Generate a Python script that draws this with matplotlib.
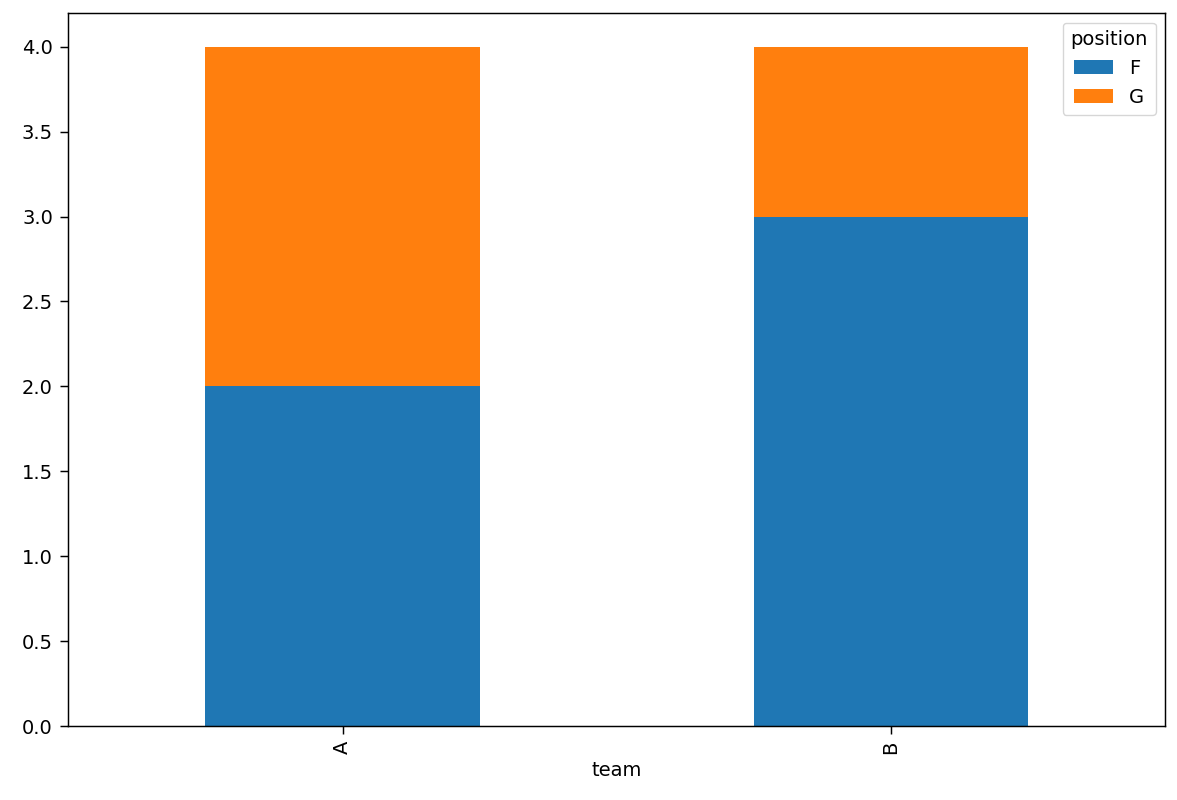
import matplotlib
matplotlib.use("Agg")
import matplotlib.pyplot as plt
import pandas as pd

teams = ["A", "B"]
positions = ["F", "G"]
counts_F = [2, 3]
counts_G = [2, 1]

df = pd.DataFrame({"F": counts_F, "G": counts_G}, index=pd.Index(teams, name="team"))
df.columns.name = "position"

plt.rcParams["font.size"] = 14
plt.rcParams["axes.linewidth"] = 1.05
plt.rcParams["xtick.major.size"] = 5.5
plt.rcParams["ytick.major.size"] = 5.5
plt.rcParams["xtick.major.width"] = 1.05
plt.rcParams["ytick.major.width"] = 1.05
plt.rcParams["xtick.major.pad"] = 5
plt.rcParams["ytick.major.pad"] = 5.5
plt.rcParams["axes.labelpad"] = 5

fig = plt.figure(figsize=(11.77, 8), dpi=100)
ax = fig.add_axes([0.058, 0.0925, 0.932, 0.8915])
df.plot(kind="bar", stacked=True, ax=ax)
ax.legend(title="position", loc="upper right", fontsize=14, title_fontsize=14)

fig.savefig("out.png", dpi=100)
